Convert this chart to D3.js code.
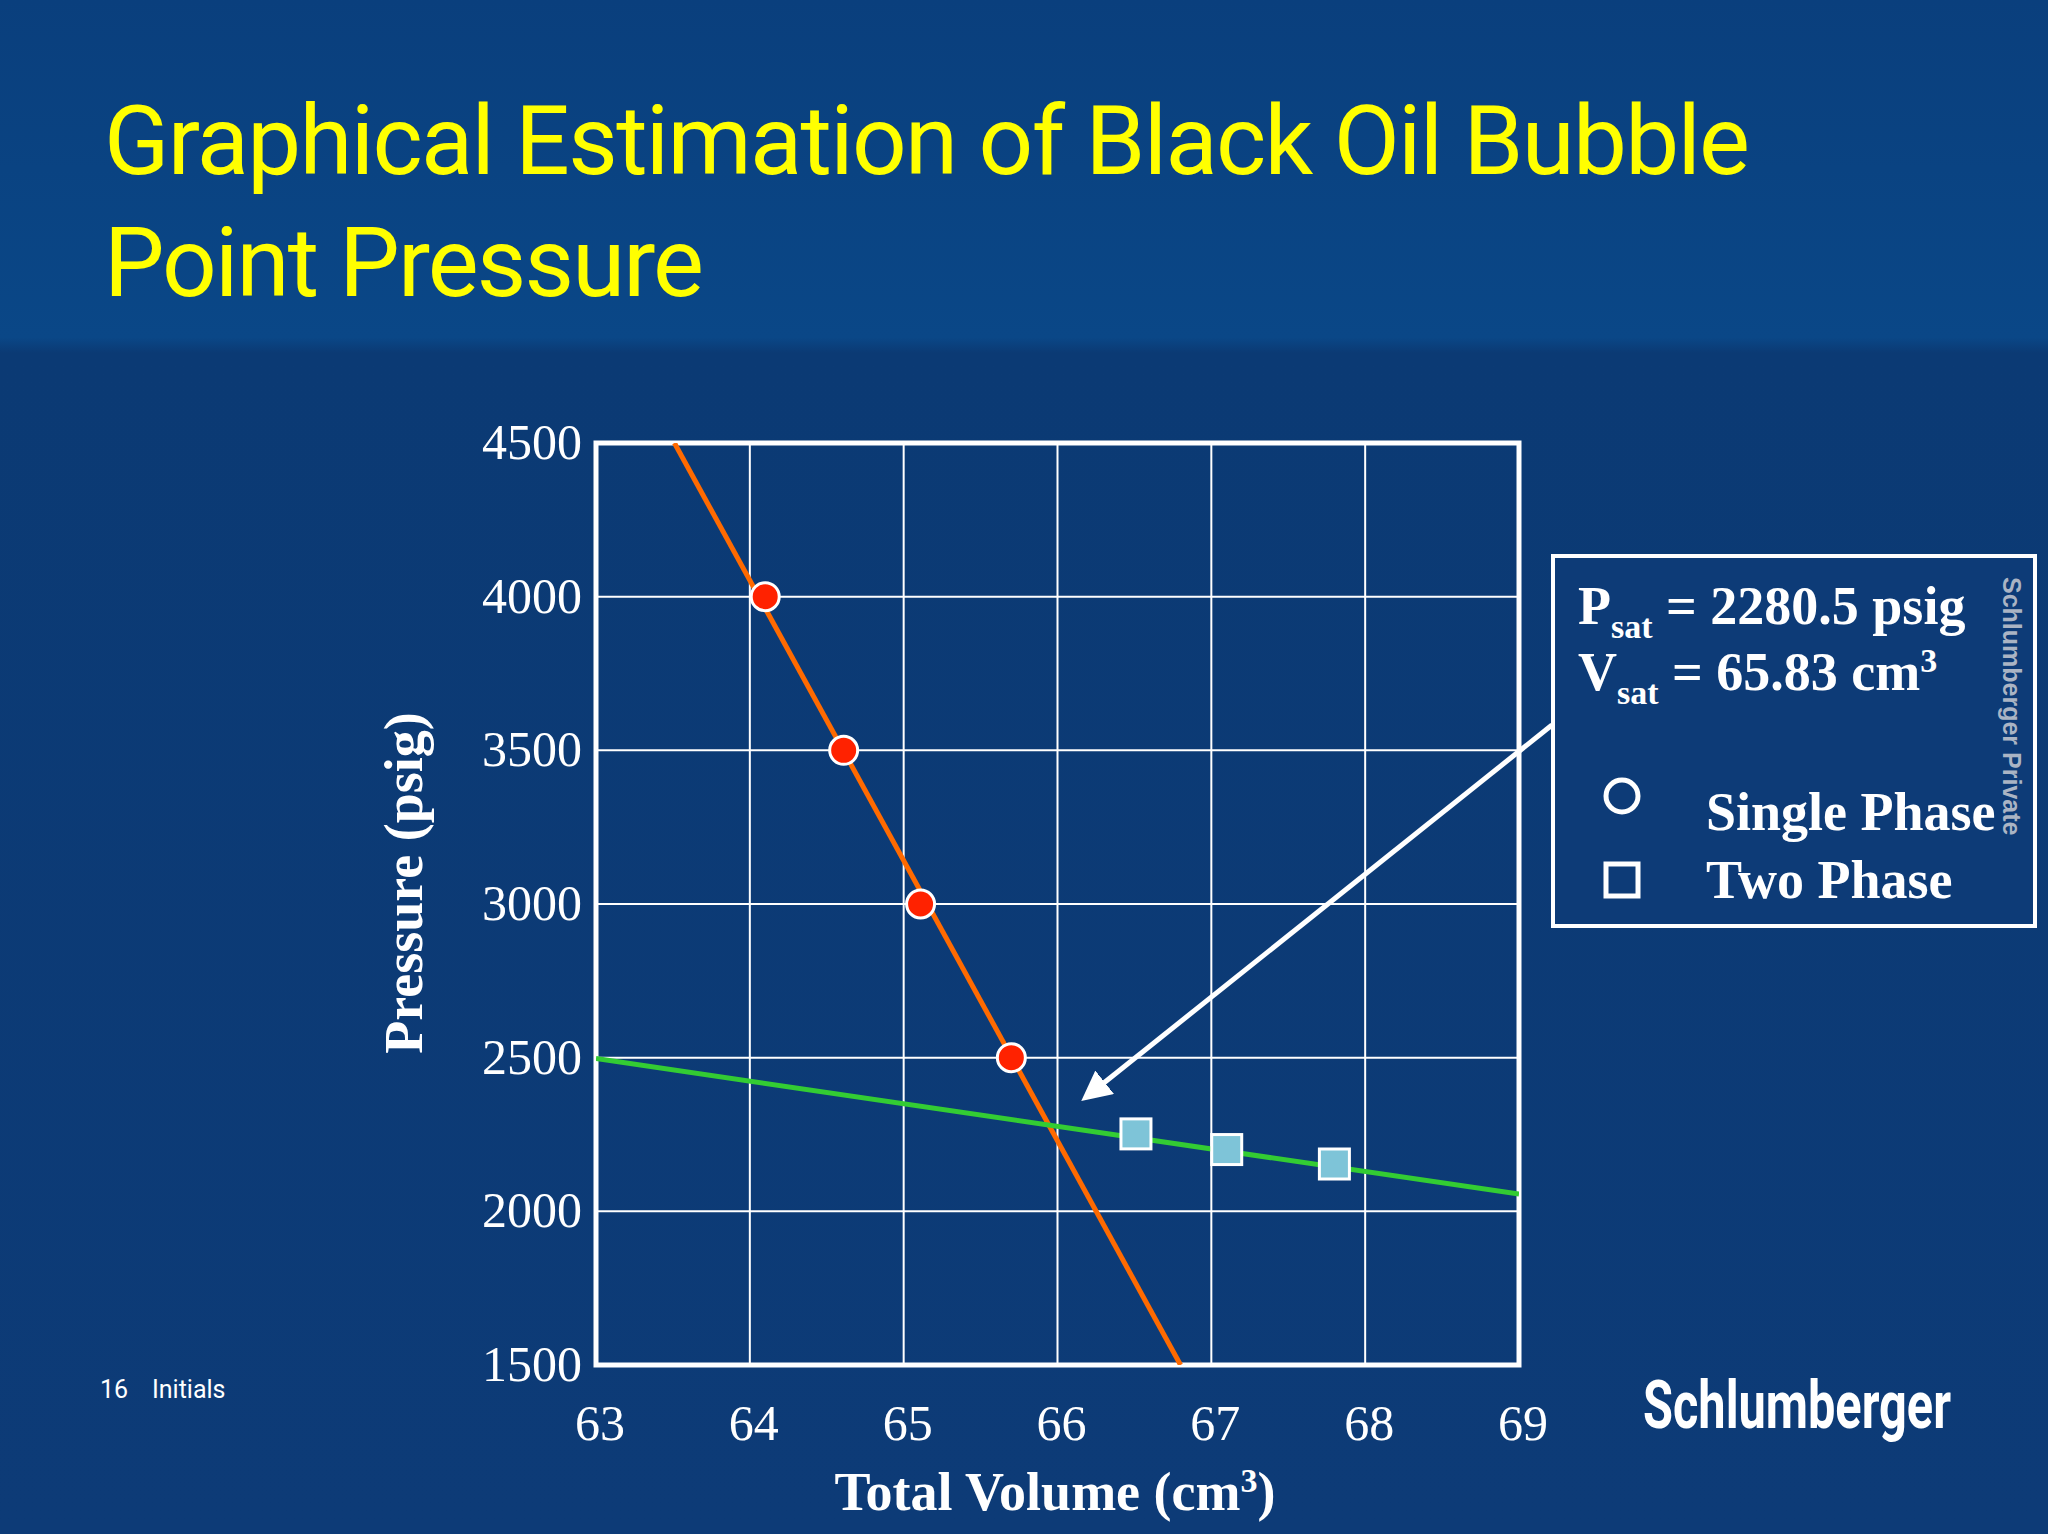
<!DOCTYPE html>
<html><head><meta charset="utf-8">
<script src="https://cdn.jsdelivr.net/npm/d3@7"></script>
<style>body{margin:0;background:#0b3a78;overflow:hidden}</style>
</head><body>
<svg id="c" width="2048" height="1534"></svg>
<script>
const xTicks=[63,64,65,66,67,68,69];
const yTicks=[1500,2000,2500,3000,3500,4000,4500];
const singleVol=[64.10,64.61,65.11,65.70];
const singlePres=[4000,3500,3000,2500];
const twoVol=[66.51,67.10,67.80];
const twoPres=[2252,2201,2154];
const orangeLineVol=[63.51,66.80];
const orangeLinePres=[4500,1500];
const greenLineVol=[63,69];
const greenLinePres=[2497,2056];

const svg=d3.select("#c");
const defs=svg.append("defs");
const g1=defs.append("linearGradient").attr("id","bg").attr("x1",0).attr("y1",0).attr("x2",0).attr("y2",1);
g1.append("stop").attr("offset",0).attr("stop-color","#0a3f7d");
g1.append("stop").attr("offset",0.22).attr("stop-color","#0a4787");
g1.append("stop").attr("offset",0.23).attr("stop-color","#0b3a74");
g1.append("stop").attr("offset",1).attr("stop-color","#0d3b77");
svg.append("rect").attr("width",2048).attr("height",1534).attr("fill","url(#bg)");

svg.append("text").attr("x",104).attr("y",174).attr("fill","#ffff00").attr("font-family","Roboto, sans-serif").attr("font-size",96).attr("textLength",1646).text("Graphical Estimation of Black Oil Bubble");
svg.append("text").attr("x",104).attr("y",296).attr("fill","#ffff00").attr("font-family","Roboto, sans-serif").attr("font-size",96).attr("textLength",600).text("Point Pressure");

const L=596,R=1519,T=443,B=1365;
const x=d3.scaleLinear().domain([63,69]).range([L,R]);
const y=d3.scaleLinear().domain([1500,4500]).range([B,T]);

const grid=svg.append("g");
grid.selectAll("line.v").data(xTicks).join("line").attr("x1",d=>x(d)).attr("x2",d=>x(d)).attr("y1",T).attr("y2",B).attr("stroke","#fff").attr("stroke-width",2);
grid.selectAll("line.h").data(yTicks).join("line").attr("y1",d=>y(d)).attr("y2",d=>y(d)).attr("x1",L).attr("x2",R).attr("stroke","#fff").attr("stroke-width",2);
svg.append("rect").attr("x",L).attr("y",T).attr("width",R-L).attr("height",B-T).attr("fill","none").attr("stroke","#fff").attr("stroke-width",5);

const serif="'Liberation Serif','Times New Roman',serif";
svg.selectAll("text.yt").data(yTicks).join("text").attr("x",582).attr("y",d=>y(d)+16).attr("text-anchor","end").attr("fill","#fff").attr("font-family",serif).attr("font-size",50).text(d=>d);
svg.selectAll("text.xt").data(xTicks).join("text").attr("x",d=>x(d)+4).attr("y",1440).attr("text-anchor","middle").attr("fill","#fff").attr("font-family",serif).attr("font-size",50).text(d=>d);

const axt=svg.append("text").attr("x",1055).attr("y",1510).attr("text-anchor","middle").attr("fill","#fff").attr("font-family",serif).attr("font-size",54).attr("font-weight","bold");
axt.append("tspan").text("Total Volume (cm");
axt.append("tspan").attr("dy",-18).attr("font-size",34).text("3");
axt.append("tspan").attr("dy",18).text(")");
svg.append("text").attr("transform","translate(422,883) rotate(-90)").attr("text-anchor","middle").attr("fill","#fff").attr("font-family",serif).attr("font-size",54).attr("font-weight","bold").text("Pressure (psig)");

const clip=defs.append("clipPath").attr("id","pc");
clip.append("rect").attr("x",L).attr("y",T).attr("width",R-L).attr("height",B-T);
const line=d3.line().x(d=>x(d[0])).y(d=>y(d[1]));
svg.append("path").attr("clip-path","url(#pc)").attr("d",line(d3.zip(orangeLineVol,orangeLinePres))).attr("stroke","#ff6a00").attr("stroke-width",5).attr("fill","none");
svg.append("path").attr("clip-path","url(#pc)").attr("d",line(d3.zip(greenLineVol,greenLinePres))).attr("stroke","#33cc33").attr("stroke-width",5).attr("fill","none");

svg.selectAll("circle.s").data(d3.zip(singleVol,singlePres)).join("circle").attr("cx",d=>x(d[0])).attr("cy",d=>y(d[1])).attr("r",14).attr("fill","#ff2200").attr("stroke","#fff").attr("stroke-width",3);
svg.selectAll("rect.t").data(d3.zip(twoVol,twoPres)).join("rect").attr("x",d=>x(d[0])-15).attr("y",d=>y(d[1])-15).attr("width",30).attr("height",30).attr("fill","#7ec4d8").attr("stroke","#fff").attr("stroke-width",3);

defs.append("marker").attr("id","ah").attr("viewBox","0 0 10 10").attr("refX",2).attr("refY",5).attr("markerWidth",6).attr("markerHeight",6).attr("orient","auto").append("path").attr("d","M0,0 L10,5 L0,10 Z").attr("fill","#fff");
svg.append("line").attr("x1",1552).attr("y1",725).attr("x2",1100).attr("y2",1086).attr("stroke","#fff").attr("stroke-width",5).attr("marker-end","url(#ah)");

svg.append("rect").attr("x",1553).attr("y",556).attr("width",482).attr("height",370).attr("fill","#0d3b77").attr("stroke","#fff").attr("stroke-width",4);
const lt=(xx,yy)=>svg.append("text").attr("x",xx).attr("y",yy).attr("fill","#fff").attr("font-family",serif).attr("font-size",54).attr("font-weight","bold");
let t=lt(1578,624); t.append("tspan").text("P"); t.append("tspan").attr("dy",14).attr("font-size",34).text("sat"); t.append("tspan").attr("dy",-14).text(" = 2280.5 psig");
t=lt(1578,690); t.append("tspan").text("V"); t.append("tspan").attr("dy",14).attr("font-size",34).text("sat"); t.append("tspan").attr("dy",-14).text(" = 65.83 cm"); t.append("tspan").attr("dy",-18).attr("font-size",34).text("3");
svg.append("circle").attr("cx",1622).attr("cy",796).attr("r",16).attr("fill","none").attr("stroke","#fff").attr("stroke-width",5);
svg.append("rect").attr("x",1606).attr("y",864).attr("width",32).attr("height",32).attr("fill","none").attr("stroke","#fff").attr("stroke-width",5);
lt(1706,830).text("Single Phase");
lt(1706,898).text("Two Phase");

svg.append("text").attr("transform","translate(2003,577) rotate(90)").attr("fill","#aab4c4").attr("font-family","'Liberation Sans',Arial,sans-serif").attr("font-size",25).attr("font-weight","bold").text("Schlumberger Private");

svg.append("text").attr("x",100).attr("y",1398).attr("fill","#fff").attr("font-family","'Liberation Sans Narrow',Roboto,sans-serif").attr("font-size",25).text("16");
svg.append("text").attr("x",152).attr("y",1398).attr("fill","#fff").attr("font-family","'Liberation Sans Narrow',Roboto,sans-serif").attr("font-size",25).text("Initials");
svg.append("text").attr("x",1643).attr("y",1428).attr("fill","#fff").attr("font-family","'Liberation Sans Narrow',Roboto,sans-serif").attr("font-size",66).attr("font-weight","bold").attr("textLength",308).attr("lengthAdjust","spacingAndGlyphs").text("Schlumberger");
</script>
</body></html>
